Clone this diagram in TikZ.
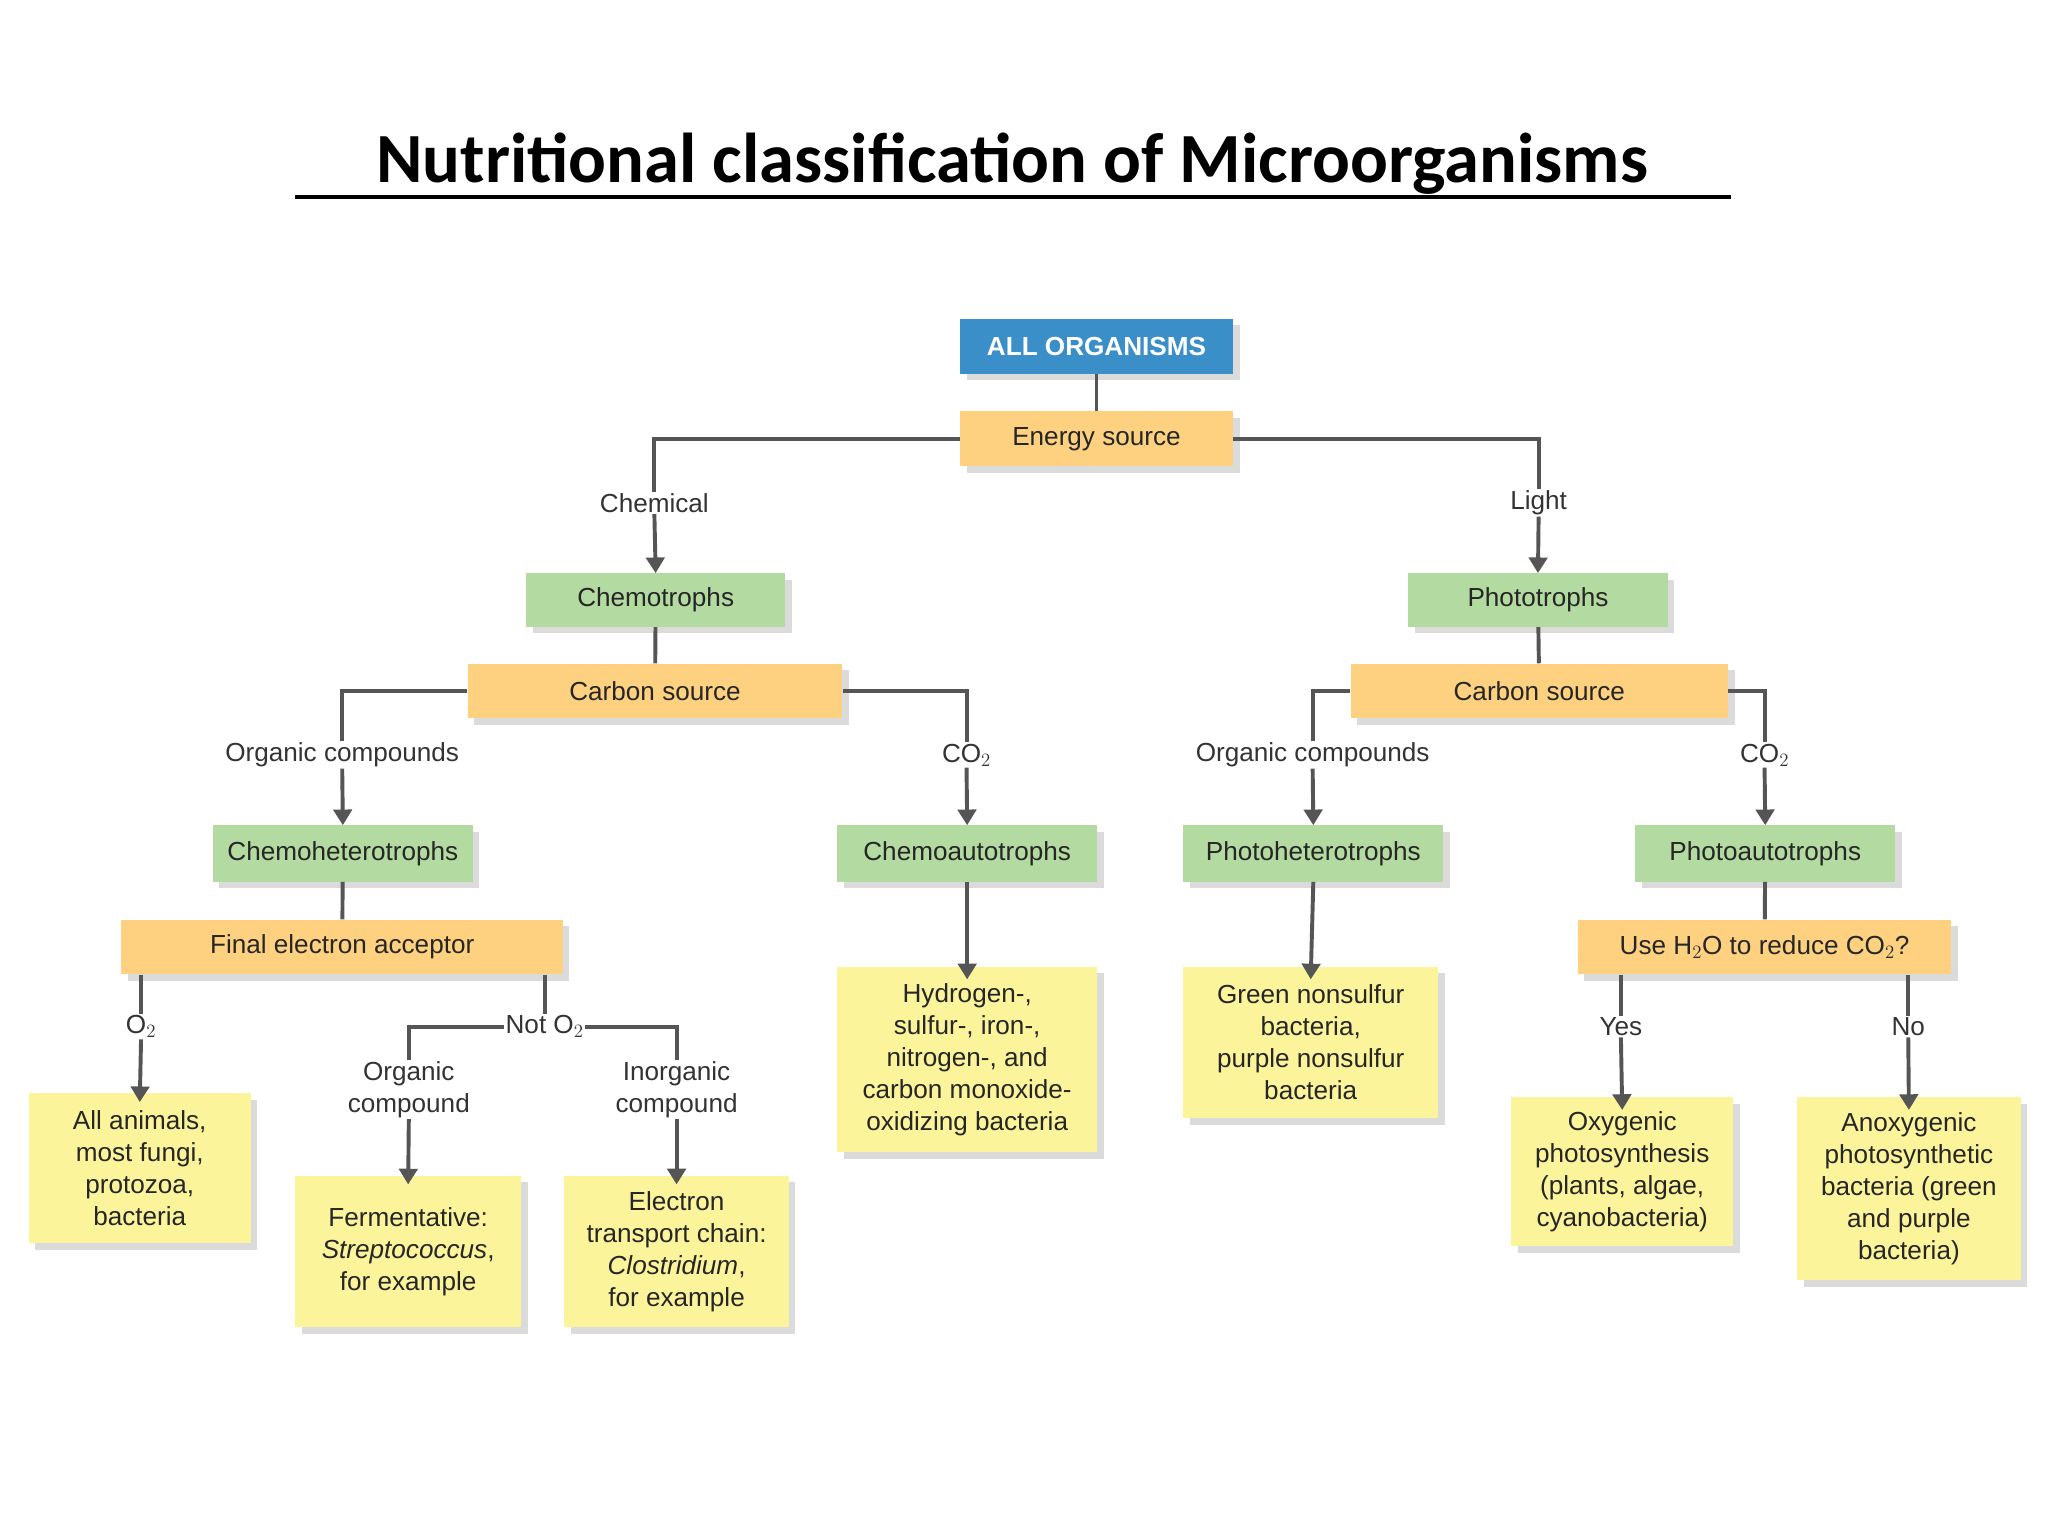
\documentclass[tikz,border=0pt]{standalone}
\usepackage{fontspec}
\setmainfont{Liberation Sans}
\newfontfamily\titlefont{Carlito}
\usetikzlibrary{shadows,arrows.meta}
\definecolor{cblue}{HTML}{3B8FC9}
\definecolor{corange}{HTML}{FDD17F}
\definecolor{cgreen}{HTML}{B3DAA0}
\definecolor{cyellow}{HTML}{FCF49B}
\definecolor{cline}{HTML}{555555}
\begin{document}
\begin{tikzpicture}[x=1pt,y=-1pt,
 bx/.style={inner sep=0pt,align=center,text=black!85,font=\fontsize{20}{24.5}\selectfont,
   drop shadow={opacity=0.35,shadow xshift=5pt,shadow yshift=-5pt,fill=black!40}},
 lbl/.style={inner sep=1pt,align=center,text=black!80,font=\fontsize{20}{24.5}\selectfont},
 ln/.style={draw=cline,line width=3pt},
 ar/.style={draw=cline,line width=3pt,-{Triangle[width=14pt,length=12pt]}}]
\useasboundingbox (0,0) rectangle (1568,1176);
\fill[white] (0,0) rectangle (1568,1176);
\node (title) at (775,125) {\titlefont\bfseries\fontsize{54}{60}\selectfont Nutritional classification of Microorganisms};
\draw[line width=3pt] (226,151) -- (1325,151);
% macro-like nodes
\newcommand\bxn[7]{\node[bx,fill=#6,minimum width={#3-#2},minimum height={#5-#4}] (#1) at ({(#2+#3)/2},{(#4+#5)/2}) {#7};}
\bxn{all}{735}{944}{244}{286}{cblue}{\color{white}\bfseries ALL ORGANISMS}
\bxn{en}{735}{944}{315}{357}{corange}{Energy source}
\bxn{chemo}{403}{601}{439}{480}{cgreen}{Chemotrophs}
\bxn{photo}{1078}{1277}{439}{480}{cgreen}{Phototrophs}
\bxn{csl}{358}{645}{508}{550}{corange}{Carbon source}
\bxn{csr}{1034}{1323}{508}{550}{corange}{Carbon source}
\bxn{chet}{163}{362}{632}{675}{cgreen}{Chemoheterotrophs}
\bxn{caut}{641}{840}{632}{675}{cgreen}{Chemoautotrophs}
\bxn{phet}{906}{1105}{632}{675}{cgreen}{Photoheterotrophs}
\bxn{paut}{1252}{1451}{632}{675}{cgreen}{Photoautotrophs}
\bxn{fea}{93}{431}{704}{746}{corange}{Final electron acceptor}
\bxn{h2o}{1208}{1494}{704}{746}{corange}{Use H$_2$O to reduce CO$_2$?}
\bxn{hyd}{641}{840}{740}{882}{cyellow}{Hydrogen-,\\sulfur-, iron-,\\nitrogen-, and\\carbon monoxide-\\oxidizing bacteria}
\bxn{gns}{906}{1101}{740}{856}{cyellow}{Green nonsulfur\\bacteria,\\purple nonsulfur\\bacteria}
\bxn{ani}{22}{192}{837}{952}{cyellow}{All animals,\\most fungi,\\protozoa,\\bacteria}
\bxn{fer}{226}{399}{900}{1016}{cyellow}{Fermentative:\\\textit{Streptococcus},\\for example}
\bxn{etc}{432}{604}{900}{1016}{cyellow}{Electron\\transport chain:\\\textit{Clostridium},\\for example}
\bxn{oxy}{1157}{1327}{840}{954}{cyellow}{Oxygenic\\photosynthesis\\(plants, algae,\\cyanobacteria)}
\bxn{anox}{1376}{1547}{840}{980}{cyellow}{Anoxygenic\\photosynthetic\\bacteria (green\\and purple\\bacteria)}
% labels
\node[lbl] (lchem) at (501,385) {Chemical};
\node[lbl] (llight) at (1178,385) {Light};
\node[lbl] (loc1) at (262,578) {Organic compounds};
\node[lbl] (lco1) at (740,578) {CO$_2$};
\node[lbl] (loc2) at (1005,578) {Organic compounds};
\node[lbl] (lco2) at (1351,578) {CO$_2$};
\node[lbl] (lo2) at (108,786) {O$_2$};
\node[lbl] (lno2) at (417,786) {Not O$_2$};
\node[lbl] (lorg) at (313,834) {Organic\\compound};
\node[lbl] (linorg) at (518,834) {Inorganic\\compound};
\node[lbl] (lyes) at (1241,786) {Yes};
\node[lbl] (lno) at (1461,786) {No};
% connectors
\draw[ln] (all) -- (en);
\draw[ln] (en.west) -| (lchem.north);
\draw[ln] (en.east) -| (llight.north);
\draw[ar] (lchem.south) -- (chemo.north);
\draw[ar] (llight.south) -- (photo.north);
\draw[ln] (chemo) -- (csl);
\draw[ln] (photo) -- (csr);
\draw[ln] (csl.west) -| (loc1.north);
\draw[ln] (csl.east) -| (lco1.north);
\draw[ln] (csr.west) -| (loc2.north);
\draw[ln] (csr.east) -| (lco2.north);
\draw[ar] (loc1.south) -- (chet.north);
\draw[ar] (lco1.south) -- (caut.north);
\draw[ar] (loc2.south) -- (phet.north);
\draw[ar] (lco2.south) -- (paut.north);
\draw[ln] (chet) -- (fea);
\draw[ln] (paut) -- (h2o);
\draw[ar] (caut.south) -- ([yshift=-10pt]hyd.north);
\draw[ar] (phet.south) -- ([yshift=-10pt]gns.north);
\draw[ln] (fea.south -| lo2) -- (lo2.north);
\draw[ar] (lo2.south) -- ([yshift=-7pt]ani.north);
\draw[ln] (fea.south -| lno2) -- (lno2.north);
\draw[ln] (lno2.west) -| (lorg.north);
\draw[ln] (lno2.east) -| (linorg.north);
\draw[ar] (lorg.south) -- ([yshift=-7pt]fer.north);
\draw[ar] (linorg.south) -- ([yshift=-7pt]etc.north);
\draw[ln] (h2o.south -| lyes) -- (lyes.north);
\draw[ln] (h2o.south -| lno) -- (lno.north);
\draw[ar] (lyes.south) -- ([yshift=-10pt]oxy.north);
\draw[ar] (lno.south) -- ([yshift=-10pt]anox.north);
\end{tikzpicture}
\end{document}
